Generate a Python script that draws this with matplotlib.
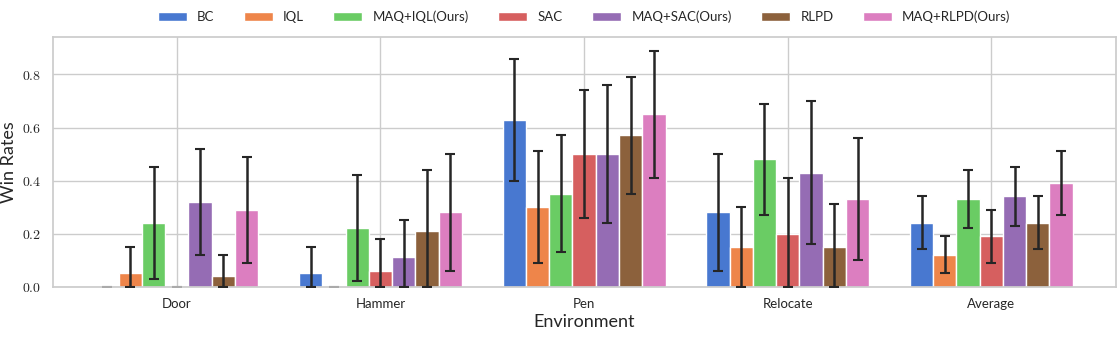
import numpy as np
import matplotlib
matplotlib.use("Agg")
import matplotlib.pyplot as plt
import seaborn as sns
from matplotlib.ticker import FuncFormatter

envs = ["Door", "Hammer", "Pen", "Relocate", "Average"]
methods = ["BC", "IQL", "MAQ+IQL(Ours)", "SAC", "MAQ+SAC(Ours)", "RLPD", "MAQ+RLPD(Ours)"]

# mean win rate per method, one value per environment
bc = [0.00, 0.05, 0.63, 0.28, 0.24]
iql = [0.05, 0.00, 0.30, 0.15, 0.12]
maq_iql = [0.24, 0.22, 0.35, 0.48, 0.33]
sac = [0.00, 0.06, 0.50, 0.20, 0.19]
maq_sac = [0.32, 0.11, 0.50, 0.43, 0.34]
rlpd = [0.04, 0.21, 0.57, 0.15, 0.24]
maq_rlpd = [0.29, 0.28, 0.65, 0.33, 0.39]

# error bar ends (low, high)
bc_lo = [0.00, 0.00, 0.40, 0.06, 0.14]
bc_hi = [0.00, 0.15, 0.86, 0.50, 0.34]
iql_lo = [0.00, 0.00, 0.09, 0.00, 0.05]
iql_hi = [0.15, 0.00, 0.51, 0.30, 0.19]
maq_iql_lo = [0.03, 0.02, 0.13, 0.27, 0.22]
maq_iql_hi = [0.45, 0.42, 0.57, 0.69, 0.44]
sac_lo = [0.00, 0.00, 0.26, 0.00, 0.09]
sac_hi = [0.00, 0.18, 0.74, 0.41, 0.29]
maq_sac_lo = [0.12, 0.00, 0.24, 0.16, 0.23]
maq_sac_hi = [0.52, 0.25, 0.76, 0.70, 0.45]
rlpd_lo = [0.00, 0.00, 0.35, 0.00, 0.14]
rlpd_hi = [0.12, 0.44, 0.79, 0.31, 0.34]
maq_rlpd_lo = [0.09, 0.06, 0.41, 0.10, 0.27]
maq_rlpd_hi = [0.49, 0.50, 0.89, 0.56, 0.51]

means = [bc, iql, maq_iql, sac, maq_sac, rlpd, maq_rlpd]
lows = [bc_lo, iql_lo, maq_iql_lo, sac_lo, maq_sac_lo, rlpd_lo, maq_rlpd_lo]
highs = [bc_hi, iql_hi, maq_iql_hi, sac_hi, maq_sac_hi, rlpd_hi, maq_rlpd_hi]

sns.set_theme(style="whitegrid")
plt.rcParams["font.family"] = ["Lato", "DejaVu Sans"]
plt.rcParams["mathtext.fontset"] = "cm"
colors = sns.color_palette("muted", 7)

fig, ax = plt.subplots(figsize=(11.2, 3.56), dpi=100)
x = np.arange(len(envs))
n = len(methods)
w = 0.8 / n

for i, (m, vals) in enumerate(zip(methods, means)):
    pos = x - 0.4 + w * (i + 0.5)
    ax.bar(pos, vals, width=w, color=colors[i], edgecolor="white", linewidth=1, label=m, zorder=2)
    for p, v, lo, hi in zip(pos, vals, lows[i], highs[i]):
        ec = "#262626" if hi > lo else "#aaaaaa"
        ax.errorbar(p, v, yerr=[[v - lo], [hi - v]], fmt="none", ecolor=ec,
                    elinewidth=1.8, capsize=3.5, capthick=1.5, zorder=3)

ax.set_xticks(x)
ax.set_xticklabels(envs, fontsize=9.5)
ax.set_xlim(-0.61, len(envs) - 0.39)
ax.set_ylim(0, 0.94)
ax.set_yticks([0, 0.2, 0.4, 0.6, 0.8])
ax.yaxis.set_major_formatter(FuncFormatter(lambda v, _: r"$%.1f$" % v))
ax.tick_params(axis="y", labelsize=10, pad=2)
ax.tick_params(axis="x", pad=2)
ax.set_xlabel("Environment", fontsize=13, labelpad=3)
ax.set_ylabel("Win Rates", fontsize=13, labelpad=4)
ax.grid(True, zorder=0)
ax.set_axisbelow(True)

ax.legend(loc="lower center", bbox_to_anchor=(0.5, 1.02), ncol=7, frameon=False,
          fontsize=9.5, handlelength=2.2, handletextpad=0.8, columnspacing=2.2,
          borderaxespad=0.3)

fig.subplots_adjust(left=0.047, right=0.996, top=0.895, bottom=0.195)
fig.savefig("out.png", dpi=100)
